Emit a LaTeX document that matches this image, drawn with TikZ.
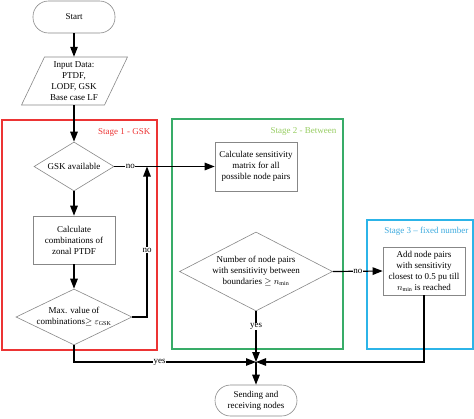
\documentclass[tikz,border=0pt]{standalone}
\usepackage{fontspec}
\setmainfont{Liberation Serif}
\usetikzlibrary{shapes.geometric,arrows.meta}
\definecolor{stred}{RGB}{236,52,52}
\definecolor{stgreen}{RGB}{56,172,104}
\definecolor{stgreentext}{RGB}{150,204,96}
\definecolor{stblue}{RGB}{44,180,232}
\definecolor{stbluetext}{RGB}{60,170,222}
\definecolor{nodegray}{RGB}{135,135,135}
\begin{document}
\begin{tikzpicture}[x=1pt,y=-1pt,
  every node/.style={font=\fontsize{9}{11}\selectfont, align=center},
  termbox/.style={draw=nodegray, line width=0.6pt, rounded corners=15.5pt, minimum width=82pt, inner sep=0pt},
  procbox/.style={draw=nodegray, line width=0.6pt, minimum width=82pt, minimum height=48pt, inner sep=1pt},
  decbox/.style={draw=nodegray, line width=0.6pt, diamond, inner sep=0pt},
  flow/.style={line width=1.2pt, -{Triangle[length=10pt,width=7.5pt]}},
  lbl/.style={fill=white, inner sep=0.6pt},
  stagebox/.style={line width=1.2pt}
]
\useasboundingbox (0,0) rectangle (474,418);
% stage frames
\draw[stagebox, draw=stred] (2,120) rectangle (157,350);
\draw[stagebox, draw=stgreen] (172,119) rectangle (343,349);
\draw[stagebox, draw=stblue] (367,220) rectangle (473,349);
\node[text=stred, anchor=east] (s1) at (154,132) {Stage 1 - GSK};
\node[text=stgreentext, anchor=east] (s2) at (340,131) {Stage 2 - Between};
\node[text=stbluetext, anchor=east] (s3) at (472,231) {Stage 3 -- fixed number};
% nodes
\node[termbox, minimum height=32pt] (start) at (74,17) {Start};
\draw[draw=nodegray, line width=0.6pt] (44.5,57) -- (127.5,57) -- (104.5,105) -- (21.5,105) -- cycle;
\node[minimum width=60pt, minimum height=48pt, inner sep=0pt] (inp) at (74,81) {Input Data:\\PTDF,\\LODF, GSK\\Base case LF};
\node[decbox, minimum width=80pt, minimum height=49pt, aspect=1.63] (gsk) at (74,166.5) {GSK available};
\node[procbox] (comb) at (74,240) {Calculate\\combinations of\\zonal PTDF};
\node[decbox, minimum width=116pt, minimum height=56pt, aspect=2.07] (max) at (74,317) {Max. value of\\combinations$\geq$ $\varepsilon_{\mathrm{GSK}}$};
\node[procbox, minimum height=49pt] (sens) at (256,166.5) {Calculate sensitivity\\matrix for all\\possible node pairs};
\node[decbox, minimum width=153pt, minimum height=79pt, aspect=1.94] (div) at (256,271.5) {Number of node pairs\\with sensitivity between\\boundaries $\geq$ $n_{\min}$};
\node[procbox] (add) at (424,271) {Add node pairs\\with sensitivity\\closest to 0.5 pu till\\$n_{\min}$ is reached};
\node[termbox, minimum height=31pt] (send) at (256,400.5) {Sending and\\receiving nodes};
\coordinate (junc) at (256,362);
\coordinate (loopr) at (147,317);
\coordinate (loopt) at (147,166.5);
\coordinate (maxd) at (74,362);
\coordinate (addd) at (424,362);
% connectors
\draw[flow] (start) -- (inp);
\draw[flow] (inp) -- (gsk);
\draw[flow] (gsk) -- (comb);
\draw[flow] (comb) -- (max);
\draw[flow] (gsk.east) -- node[lbl, pos=0.16] (no1) {no} (sens.west);
\draw[flow] (max.east) -- (loopr) -- (loopt);
\node[lbl] (no2) at (147,250) {no};
\draw[flow] (max.south) -- (maxd) -- node[lbl, pos=0.47] (yes1) {yes} (junc);
\draw[flow] (div.south) -- node[lbl, pos=0.3] (yes2) {yes} (junc);
\draw[flow] (div.east) -- node[lbl, pos=0.5] (no3) {no} (add.west);
\draw[flow] (add.south) -- (addd) -- (junc);
\draw[flow] (junc) -- (send);
\end{tikzpicture}
\end{document}
